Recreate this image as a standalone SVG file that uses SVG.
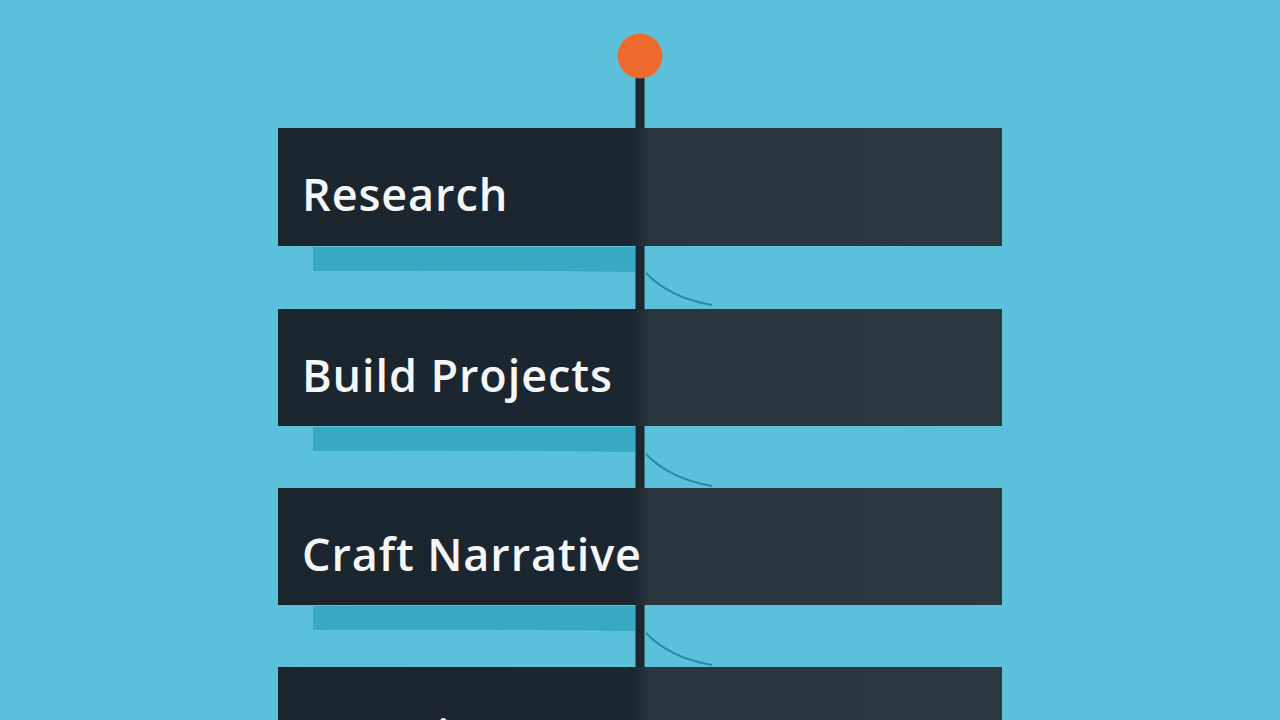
<svg xmlns="http://www.w3.org/2000/svg" width="1280" height="720" viewBox="0 0 1280 720">
<defs>
<linearGradient id="boxg" x1="278" y1="0" x2="1002" y2="0" gradientUnits="userSpaceOnUse">
<stop offset="0" stop-color="#1b252e"/>
<stop offset="0.49" stop-color="#1c2630"/>
<stop offset="0.515" stop-color="#2b353e"/>
<stop offset="1" stop-color="#2e3840"/>
</linearGradient>
<style>
.box{fill:url(#boxg);}
.shadow{fill:#37a9c3;}
.lbl{font-family:"Open Sans","Liberation Sans",sans-serif;font-size:45px;font-weight:600;fill:#f4f6f7;letter-spacing:0.9px;}
.curve{fill:none;stroke:#2b8aa2;stroke-width:2;}
</style>
</defs>
<rect width="1280" height="720" fill="#5bc1da"/>
<g id="connectors">
<rect x="635.5" y="70" width="9" height="650" fill="#1d262d"/>
<path class="curve" d="M646 273 Q670 298 712 305"/>
<path class="curve" d="M646 454 Q670 479 712 486"/>
<path class="curve" d="M646 633 Q670 658 712 665"/>
</g>
<g id="shadows">
<path class="shadow" d="M313 247 H635 V272 Q480 270 313 271 Z"/>
<path class="shadow" d="M313 427 H635 V452 Q480 450 313 451 Z"/>
<path class="shadow" d="M313 606 H635 V631 Q480 629 313 630 Z"/>
</g>
<g id="start">
<circle cx="640" cy="56" r="22.5" fill="#ef6a2d"/>
</g>
<g id="research">
<rect class="box" x="278" y="128" width="724" height="118"/>
<text class="lbl" x="302" y="211">Research</text>
</g>
<g id="build-projects">
<rect class="box" x="278" y="309" width="724" height="117"/>
<text class="lbl" x="302" y="392">Build Projects</text>
</g>
<g id="craft-narrative">
<rect class="box" x="278" y="488" width="724" height="117"/>
<text class="lbl" x="302" y="571">Craft Narrative</text>
</g>
<g id="interview">
<rect class="box" x="278" y="667" width="724" height="118"/>
<text class="lbl" x="302" y="752">Interview</text>
</g>
</svg>
